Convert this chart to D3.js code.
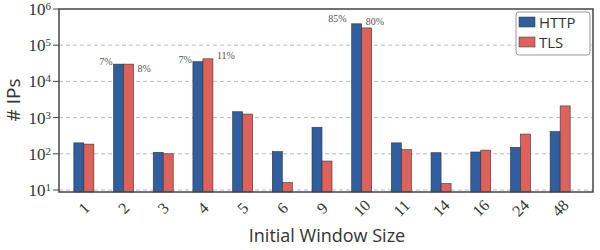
<!DOCTYPE html>
<html lang="en">
<head>
  <meta charset="UTF-8">
  <title>Initial Window Size</title>
  <script src="https://d3js.org/d3.v7.min.js"></script>
  <style>
    body { margin: 0; background: #fff; }
    .tick-label { font-family: "Liberation Serif", "DejaVu Serif", serif; fill: #333; }
    .axis-title { font-family: "Open Sans", "Noto Sans", sans-serif; fill: #333; }
    .note { font-family: "Liberation Serif", serif; font-size: 10px; fill: #555; }
  </style>
</head>
<body>
  <svg id="chart" width="600" height="250"></svg>
  <script>
    const categories = ["1", "2", "3", "4", "5", "6", "9", "10", "11", "14", "16", "24", "48"];
    const httpValues = [200, 30000, 110, 35000, 1450, 115, 540, 390000, 200, 107, 112, 150, 410];
    const tlsValues  = [185, 30000, 100, 42000, 1250, 16, 63, 300000, 130, 15, 126, 350, 2100];
    const yTicks = [1, 2, 3, 4, 5, 6];  // exponents of 10
    const httpNotes = {"2": "7%", "4": "7%", "10": "85%"};
    const tlsNotes  = {"2": "8%", "4": "11%", "10": "80%"};

    const colors = { HTTP: "#2f5f9f", TLS: "#de625b" };

    const svg = d3.select("#chart");
    const plotL = 59, plotR = 593, plotT = 9, plotB = 192;

    const x = d3.scaleBand().domain(categories).range([64, 580]);
    const y = d3.scaleLog().domain([Math.pow(10, 0.944), 1e6]).range([plotB, plotT]);
    const barW = 10;

    // gridlines
    svg.append("g").selectAll("line")
      .data(yTicks.filter(e => e < 6))
      .join("line")
      .attr("x1", plotL).attr("x2", plotR)
      .attr("y1", e => y(Math.pow(10, e))).attr("y2", e => y(Math.pow(10, e)))
      .attr("stroke", "#bbb").attr("stroke-width", 1)
      .attr("stroke-dasharray", "4,3");

    // bars
    const series = [
      { key: "HTTP", values: httpValues, off: -barW },
      { key: "TLS", values: tlsValues, off: 0 }
    ];
    series.forEach(s => {
      svg.append("g").selectAll("rect")
        .data(categories.map((c, i) => ({ c, v: s.values[i] })))
        .join("rect")
        .attr("x", d => x(d.c) + x.bandwidth() / 2 + s.off)
        .attr("y", d => y(d.v))
        .attr("width", barW)
        .attr("height", d => plotB - y(d.v))
        .attr("fill", colors[s.key])
        .attr("stroke", "#333")
        .attr("stroke-width", 0.6);
    });

    // annotations
    const notePos = {
      HTTP: { "2": [-1, 1], "4": [-1, 1], "10": [-5, -2] },
      TLS:  { "2": [4, 8], "4": [4, 0], "10": [-6, -3] }
    };
    Object.entries(httpNotes).forEach(([c, t]) => {
      const i = categories.indexOf(c);
      const [dx, dy] = notePos.HTTP[c];
      svg.append("text").attr("class", "note")
        .attr("x", x(c) + x.bandwidth() / 2 - barW + dx)
        .attr("y", y(httpValues[i]) + dy)
        .attr("text-anchor", "end").text(t);
    });
    Object.entries(tlsNotes).forEach(([c, t]) => {
      const i = categories.indexOf(c);
      const [dx, dy] = notePos.TLS[c];
      svg.append("text").attr("class", "note")
        .attr("x", x(c) + x.bandwidth() / 2 + barW + dx)
        .attr("y", y(tlsValues[i]) + dy)
        .attr("text-anchor", "start").text(t);
    });

    // frame
    svg.append("rect")
      .attr("x", plotL).attr("y", plotT)
      .attr("width", plotR - plotL).attr("height", plotB - plotT)
      .attr("fill", "none").attr("stroke", "#444").attr("stroke-width", 1.5);

    // y ticks
    const yt = svg.append("g").selectAll("g")
      .data(yTicks).join("g")
      .attr("transform", e => `translate(0,${y(Math.pow(10, e))})`);
    yt.append("line").attr("x1", plotL - 6).attr("x2", plotL)
      .attr("stroke", "#444").attr("stroke-width", 1);
    const lab = yt.append("text").attr("class", "tick-label")
      .attr("x", plotL - 8).attr("y", 6)
      .attr("text-anchor", "end").attr("font-size", 17);
    lab.append("tspan").text("10");
    lab.append("tspan").attr("dy", -5).attr("font-size", 11).text(e => e);

    // x tick labels
    svg.append("g").selectAll("text")
      .data(categories).join("text")
      .attr("class", "tick-label")
      .attr("font-size", 16)
      .attr("text-anchor", "middle")
      .attr("transform", c => `translate(${x(c) + x.bandwidth() / 2},${208}) rotate(-45)`)
      .attr("dy", "0.35em")
      .text(c => c);

    // axis titles
    svg.append("text").attr("class", "axis-title")
      .attr("x", 327).attr("y", 242)
      .attr("text-anchor", "middle").attr("font-size", 18)
      .text("Initial Window Size");
    svg.append("text").attr("class", "axis-title")
      .attr("transform", "translate(20,100) rotate(-90)")
      .attr("text-anchor", "middle").attr("font-size", 19)
      .text("# IPs");

    // legend
    const lg = svg.append("g").attr("transform", "translate(516,12)");
    lg.append("rect").attr("width", 74).attr("height", 43).attr("rx", 3)
      .attr("fill", "#fff").attr("stroke", "#999").attr("stroke-width", 1);
    ["HTTP", "TLS"].forEach((k, i) => {
      lg.append("rect").attr("x", 3).attr("y", 5 + i * 20)
        .attr("width", 16).attr("height", 10)
        .attr("fill", colors[k]).attr("stroke", "#333").attr("stroke-width", 0.5);
      lg.append("text").attr("class", "axis-title")
        .attr("x", 23).attr("y", 16 + i * 20)
        .attr("font-size", 15).text(k);
    });
  </script>
</body>
</html>
